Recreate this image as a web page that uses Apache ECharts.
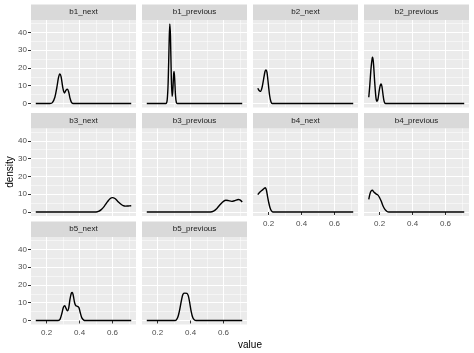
<!DOCTYPE html>
<html>
<head>
<meta charset="utf-8">
<script src="https://cdn.jsdelivr.net/npm/echarts@6/dist/echarts.min.js"></script>
<style>
html,body{margin:0;padding:0;background:#fff}
#chart{width:474px;height:353px}
</style>
</head>
<body>
<div id="chart"></div>
<script>
// density curves, [value, density]
const b1_next = [[0.134,0],[0.22,0],[0.235,0.5],[0.25,3.5],[0.262,9],[0.272,14.5],[0.28,16.6],[0.288,15],[0.298,9],[0.308,5.9],[0.318,7.5],[0.326,8],[0.334,6.5],[0.342,3],[0.35,0.8],[0.36,0],[0.714,0]];
const b1_previous = [[0.134,0],[0.25,0],[0.258,2],[0.264,12],[0.27,35],[0.274,44.7],[0.278,38],[0.283,15],[0.288,4],[0.292,7],[0.297,16],[0.30,18],[0.304,13],[0.309,4],[0.314,0.5],[0.32,0],[0.714,0]];
const b2_next = [[0.134,8.6],[0.142,7.3],[0.15,6.8],[0.16,9],[0.17,14],[0.178,18],[0.184,18.9],[0.19,17.5],[0.198,11],[0.206,4.5],[0.214,1],[0.222,0],[0.714,0]];
const b2_previous = [[0.134,3.5],[0.14,10],[0.148,20],[0.155,25.5],[0.158,26],[0.163,22],[0.17,12],[0.178,3],[0.184,1.2],[0.19,2.5],[0.198,7.5],[0.205,10.5],[0.21,11],[0.215,9],[0.222,4],[0.228,1],[0.236,0],[0.714,0]];
const b3_next = [[0.134,0],[0.5,0],[0.515,0.3],[0.53,1.2],[0.55,3.2],[0.57,5.8],[0.585,7.5],[0.6,8.1],[0.615,7.6],[0.63,6.2],[0.65,4.5],[0.665,3.6],[0.68,3.3],[0.695,3.4],[0.714,3.5]];
const b3_previous = [[0.134,0],[0.52,0],[0.54,0.5],[0.56,2],[0.58,4.2],[0.6,6],[0.615,6.6],[0.63,6.4],[0.65,6.0],[0.67,6.4],[0.69,7],[0.7,6.8],[0.714,5.6]];
const b4_next = [[0.134,9.8],[0.145,11],[0.16,12.2],[0.172,13.2],[0.18,13.7],[0.186,12.5],[0.192,9.5],[0.2,5.6],[0.208,2.5],[0.216,0.8],[0.226,0],[0.714,0]];
const b4_previous = [[0.134,7.1],[0.142,10.5],[0.15,12],[0.156,12.2],[0.165,11.2],[0.178,10.2],[0.19,9.5],[0.2,8],[0.21,6],[0.22,3.5],[0.232,1.5],[0.245,0.3],[0.256,0],[0.714,0]];
const b5_next = [[0.134,0],[0.27,0],[0.282,0.8],[0.294,4.5],[0.302,7.5],[0.31,8.3],[0.318,6.8],[0.326,5.4],[0.334,7],[0.342,12],[0.35,15.3],[0.356,15.8],[0.362,14],[0.37,10],[0.378,8.3],[0.388,8],[0.396,7.3],[0.404,4.5],[0.414,1.5],[0.426,0.2],[0.434,0],[0.714,0]];
const b5_previous = [[0.134,0],[0.305,0],[0.315,0.5],[0.325,2.5],[0.335,6.5],[0.345,11.5],[0.354,14.8],[0.365,15.4],[0.378,15.3],[0.386,14],[0.394,10.5],[0.404,5],[0.414,1.5],[0.424,0.3],[0.434,0],[0.714,0]];

const panelNames = ['b1_next','b1_previous','b2_next','b2_previous','b3_next','b3_previous','b4_next','b4_previous','b5_next','b5_previous'];
const panelData = [b1_next,b1_previous,b2_next,b2_previous,b3_next,b3_previous,b4_next,b4_previous,b5_next,b5_previous];

const xRange = [0.105, 0.743];
const yRange = [-2.24, 46.94];

// layout (px)
const colLeft = [31, 142, 253, 364];
const rowTop = [20, 128.5, 237];
const panelW = 105, panelH = 87.5, stripH = 15.5;
const FONT = '"Liberation Sans", Arial, sans-serif';

const grids = [], xAxes = [], yAxes = [], series = [], graphics = [];

panelNames.forEach((name, i) => {
  const r = Math.floor(i / 4), c = i % 4;
  const showX = (r === 2) || (r === 1 && c >= 2);
  const showY = c === 0;
  grids.push({
    left: colLeft[c], top: rowTop[r], width: panelW, height: panelH,
    show: true, backgroundColor: '#EBEBEB', borderWidth: 0
  });
  xAxes.push({
    type: 'value', gridIndex: i, min: xRange[0], max: xRange[1], splitNumber: 3,
    axisLine: {show: false},
    axisTick: {show: showX, length: 3, lineStyle: {color: '#333', width: 1}},
    axisLabel: {show: showX, color: '#4D4D4D', fontSize: 8, fontFamily: FONT, margin: 4,
      showMinLabel: false, showMaxLabel: false, formatter: v => v.toFixed(1)},
    splitLine: {show: true, showMinLine: false, showMaxLine: false, lineStyle: {color: '#fff', width: 1}},
    minorTick: {show: false, splitNumber: 2},
    minorSplitLine: {show: true, lineStyle: {color: '#fff', width: 0.5}}
  });
  yAxes.push({
    type: 'value', gridIndex: i, min: yRange[0], max: yRange[1], splitNumber: 5,
    axisLine: {show: false},
    axisTick: {show: showY, length: 3, lineStyle: {color: '#333', width: 1}},
    axisLabel: {show: showY, color: '#4D4D4D', fontSize: 8, fontFamily: FONT, margin: 4,
      showMinLabel: false, showMaxLabel: false},
    splitLine: {show: true, showMinLine: false, showMaxLine: false, lineStyle: {color: '#fff', width: 1}},
    minorTick: {show: false, splitNumber: 2},
    minorSplitLine: {show: true, lineStyle: {color: '#fff', width: 0.5}}
  });
  series.push({
    type: 'line', name: name, xAxisIndex: i, yAxisIndex: i, data: panelData[i],
    showSymbol: false, smooth: 0.3, lineStyle: {color: '#000', width: 1.4},
    silent: true, animation: false
  });
  // strip
  graphics.push({
    type: 'rect', left: colLeft[c], top: rowTop[r] - stripH,
    shape: {width: panelW, height: stripH}, style: {fill: '#D9D9D9'}
  });
  graphics.push({
    type: 'text', x: colLeft[c] + panelW / 2, y: rowTop[r] - stripH / 2,
    style: {text: name, fill: '#1A1A1A', font: '8px ' + FONT, align: 'center', verticalAlign: 'middle'}
  });
});

graphics.push({
  type: 'text', x: 250, y: 345,
  style: {text: 'value', fill: '#000', font: '10px ' + FONT, align: 'center', verticalAlign: 'middle'}
});
graphics.push({
  type: 'text', x: 10, y: 172, rotation: Math.PI / 2,
  style: {text: 'density', fill: '#000', font: '10px ' + FONT, align: 'center', verticalAlign: 'middle'}
});

const chart = echarts.init(document.getElementById('chart'), null, {renderer: 'canvas'});
chart.setOption({
  animation: false,
  backgroundColor: '#fff',
  grid: grids,
  xAxis: xAxes,
  yAxis: yAxes,
  series: series,
  graphic: graphics
});
</script>
</body>
</html>
